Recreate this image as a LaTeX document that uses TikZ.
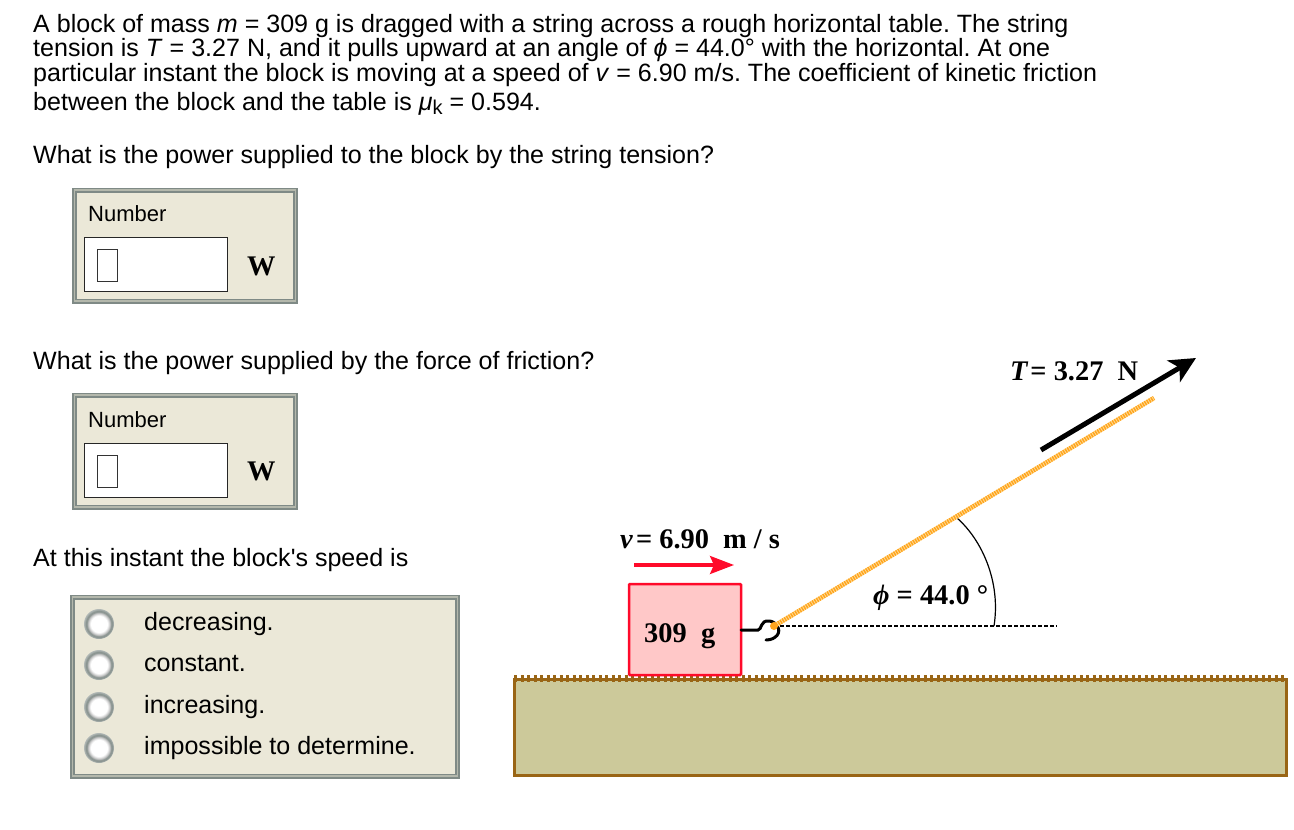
\documentclass[tikz,border=0pt]{standalone}
\usepackage{fontspec}
\usepackage{xcolor}
\usepackage{tikz}
\usetikzlibrary{arrows.meta,positioning}
\setmainfont{Liberation Sans}[Ligatures=TeXOff]
\newfontfamily\labelfont{Liberation Serif}
\frenchspacing

\definecolor{panelfill}{HTML}{EBE8D8}
\definecolor{panelline}{HTML}{7F8A86}
\definecolor{panelglow}{HTML}{B4B8AC}
\definecolor{tablefill}{HTML}{CCC99A}
\definecolor{tableline}{HTML}{996515}
\definecolor{blockline}{HTML}{FF0A2A}
\definecolor{blockfill}{HTML}{FFC8C8}
\definecolor{ropedark}{HTML}{FFA51E}
\definecolor{ropelight}{HTML}{FFE0A0}

\pgfdeclareradialshading{radioshade}{\pgfpoint{0bp}{0bp}}{%
  color(0bp)=(white); color(14bp)=(white); color(18bp)=(gray!45);
  color(21bp)=(panelline); color(25bp)=(panelline!60); color(50bp)=(panelline!60)}

\begin{document}
\begin{tikzpicture}[x=1pt, y=-1pt,
        body/.style={anchor=base west, inner sep=0, font=\fontsize{25.05}{30}\selectfont},
        small/.style={anchor=base west, inner sep=0, font=\fontsize{22}{26}\selectfont},
        tag/.style={anchor=base west, inner sep=0, font=\labelfont\bfseries\fontsize{28.4}{32}\selectfont},
        panel/.style={rectangle, anchor=north west, inner sep=0, outer sep=0, fill=panelfill,
            draw=panelline, line width=1.6pt, double=panelglow, double distance=1.8pt},
        entry/.style={rectangle, anchor=north west, inner sep=0, outer sep=0, fill=white,
            draw=black!85, line width=1pt, minimum width=143, minimum height=54},
        caret/.style={rectangle, anchor=north west, inner sep=0, outer sep=0, fill=white,
            draw=black!80, line width=.8pt, minimum width=20, minimum height=32},
        radio/.style={circle, inner sep=0, minimum size=30, shading=radioshade},
        string/.style={line width=4.6pt, line cap=butt},
        >=Stealth]

    \useasboundingbox (0,0) rectangle (1294,830);

    % question text
    \node[body] (lineA) at (33,32) {A block of mass \textit{m} = 309 g is dragged with a string across a rough horizontal table. The string};
    \node[body] (lineB) at (33,56) {tension is \textit{T} = 3.27 N, and it pulls upward at an angle of \textit{ϕ} = 44.0° with the horizontal. At one};
    \node[body] (lineC) at (33,81) {particular instant the block is moving at a speed of \textit{v} = 6.90 m/s. The coefficient of kinetic friction};
    \node[body] (lineD) at (33,110) {between the block and the table is \textit{μ}\raisebox{-4pt}{\fontsize{20}{24}\selectfont k} = 0.594.};
    \node[body] (askA) at (33,163) {What is the power supplied to the block by the string tension?};
    \node[body] (askB) at (33,369) {What is the power supplied by the force of friction?};
    \node[body] (askC) at (33,566) {At this instant the block's speed is};

    % answer boxes
    \node[panel, minimum width=221, minimum height=111] (panelA) at (74.5,190) {};
    \node[small] (numberA) at (88,221) {Number};
    \node[entry] (entryA) at (84,237) {};
    \node[caret] (caretA) at (97,249) {};
    \node[tag] (unitA) at (247,275) {W};

    \node[panel, minimum width=221, minimum height=112] (panelB) at (74.5,395) {};
    \node[small] (numberB) at (88,427) {Number};
    \node[entry] (entryB) at (84,443) {};
    \node[caret] (caretB) at (97,455) {};
    \node[tag] (unitB) at (247,480) {W};

    % choices
    \node[panel, minimum width=385, minimum height=179] (panelC) at (72.5,597) {};
    \foreach \y/\name/\txt in {624/A/decreasing., 665/B/constant., 707/C/increasing., 748/D/impossible to determine.} {
        \node[radio] (radio\name) at (99,\y) {};
        \node[body] (choice\name) at (144,\y+6) {\txt};
    }

    % table
    \node[rectangle, anchor=north west, inner sep=0, outer sep=0, fill=tablefill, draw=tableline,
        line width=3pt, minimum width=772, minimum height=95.5] (tabletop) at (514,679.5) {};
    \draw[tableline, line width=6.5pt, dash pattern=on 3.3pt off 3.2pt] (514,678.25) -- (1287,678.25);

    % block and hook
    \node[rectangle, anchor=north west, inner sep=0, outer sep=0, fill=blockfill, draw=blockline,
        line width=2.5pt, rounded corners=1pt, minimum width=112, minimum height=91] (block) at (629,584) {};
    \node[tag] (massTag) at (644,642.5) {309\ \ g};
    \coordinate (knot) at (774,626);
    \coordinate (hookBase) at (758,630);
    \coordinate (ropeEnd) at (1154,398);
    \coordinate (levelEnd) at (1057,626);
    \coordinate (arcTop) at (957,518);
    \coordinate (arcFoot) at (994,626);

    \draw[black, line width=1.1pt, dash pattern=on 4pt off 2pt] (knot) -- (levelEnd);
    \draw[black, line width=1.2pt] (arcTop) .. controls (982,540) and (1001,582) .. (arcFoot);
    \draw[black, line width=3pt, line cap=round] (block.east |- hookBase) -- (hookBase)
        .. controls (762,630) and (760,620) .. (769,621)
        .. controls (773,621) and (776,624) .. (777,626)
        .. controls (782,632) and (776,640) .. (766,640);
    \draw[ropelight, string] (knot) -- (ropeEnd);
    \draw[ropedark, string, dash pattern=on 1.5pt off 1pt] (knot) -- (ropeEnd);
    \node[circle, fill=ropedark, inner sep=0, minimum size=8] (knotDot) at (knot) {};

    % force and speed arrows
    \coordinate (pullStart) at (1041,450);
    \coordinate (pullEnd) at (1196,358);
    \coordinate (speedStart) at (634,565);
    \coordinate (speedEnd) at (734,565);
    \draw[-{Stealth[length=26pt, width=25pt, inset=7pt]}, black, line width=5pt] (pullStart) -- (pullEnd);
    \draw[-{Stealth[length=24pt, width=18pt, inset=4pt]}, blockline, line width=3.2pt] (speedStart) -- (speedEnd);

    % labels
    \node[tag] (pullTag) at (1010,380.5) {\textit{T}\kern2pt= 3.27\ \ N};
    \node[tag] (speedTag) at (620,548.5) {\textit{v}\kern3pt= 6.90\ \ m / s};
    \node[tag] (angleTag) at (873,604.5) {\textit{ϕ} = 44.0 °};

\end{tikzpicture}
\end{document}
